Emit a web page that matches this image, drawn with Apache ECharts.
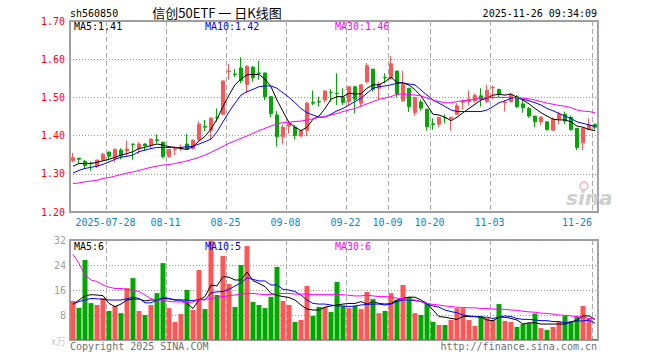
<!DOCTYPE html>
<html><head><meta charset="utf-8">
<script src="https://cdn.jsdelivr.net/npm/echarts@6/dist/echarts.min.js"></script>
<style>html,body{margin:0;padding:0;background:#fff}#c{width:660px;height:360px}</style>
</head><body><div id="c"></div>
<script>
const dates = ['2025-07-18','2025-07-21','2025-07-22','2025-07-23','2025-07-24','2025-07-25','2025-07-28','2025-07-29','2025-07-30','2025-07-31','2025-08-01','2025-08-04','2025-08-05','2025-08-06','2025-08-07','2025-08-08','2025-08-11','2025-08-12','2025-08-13','2025-08-14','2025-08-15','2025-08-18','2025-08-19','2025-08-20','2025-08-21','2025-08-22','2025-08-25','2025-08-26','2025-08-27','2025-08-28','2025-08-29','2025-09-01','2025-09-02','2025-09-03','2025-09-04','2025-09-05','2025-09-08','2025-09-09','2025-09-10','2025-09-11','2025-09-12','2025-09-15','2025-09-16','2025-09-17','2025-09-18','2025-09-19','2025-09-22','2025-09-23','2025-09-24','2025-09-25','2025-09-26','2025-09-29','2025-09-30','2025-10-09','2025-10-10','2025-10-13','2025-10-14','2025-10-15','2025-10-16','2025-10-17','2025-10-20','2025-10-21','2025-10-22','2025-10-23','2025-10-24','2025-10-27','2025-10-28','2025-10-29','2025-10-30','2025-10-31','2025-11-03','2025-11-04','2025-11-05','2025-11-06','2025-11-07','2025-11-10','2025-11-11','2025-11-12','2025-11-13','2025-11-14','2025-11-17','2025-11-18','2025-11-19','2025-11-20','2025-11-21','2025-11-24','2025-11-25','2025-11-26'];

const tickDates = ['2025-07-28','2025-08-11','2025-08-25','2025-09-08','2025-09-22','2025-10-09','2025-10-20','2025-11-03','2025-11-26'];
const tickLabels = ['2025-07-28','08-11','08-25','09-08','09-22','10-09','10-20','11-03','11-26'];

const opens = [1.334,1.341,1.333,1.328,1.320,1.336,1.357,1.340,1.362,1.360,
1.378,1.366,1.378,1.375,1.389,1.382,1.345,1.364,1.365,1.378,
1.366,1.390,1.424,1.414,1.448,1.456,1.567,1.561,1.577,1.534,
1.579,1.564,1.564,1.502,1.454,1.397,1.425,1.422,1.399,1.414,
1.487,1.489,1.493,1.513,1.511,1.500,1.489,1.528,1.485,1.541,
1.574,1.524,1.552,1.550,1.569,1.491,1.524,1.460,1.488,1.469,
1.431,1.430,1.447,1.444,1.456,1.487,1.489,1.491,1.504,1.489,
1.525,1.521,1.486,1.489,1.502,1.483,1.471,1.451,1.436,1.436,
1.414,1.443,1.456,1.448,1.419,1.381,1.416,1.430];
const closes = [1.342,1.338,1.321,1.327,1.336,1.351,1.346,1.364,1.346,1.365,
1.377,1.378,1.373,1.391,1.387,1.345,1.364,1.366,1.369,1.364,
1.388,1.430,1.422,1.446,1.447,1.543,1.569,1.560,1.544,1.581,
1.552,1.563,1.502,1.458,1.397,1.422,1.432,1.400,1.413,1.485,
1.485,1.488,1.517,1.512,1.510,1.487,1.528,1.495,1.533,1.583,
1.521,1.535,1.551,1.588,1.509,1.534,1.476,1.500,1.472,1.423,
1.429,1.448,1.446,1.448,1.478,1.491,1.495,1.505,1.495,1.519,
1.526,1.509,1.487,1.506,1.476,1.473,1.451,1.436,1.448,1.416,
1.443,1.456,1.438,1.416,1.369,1.419,1.428,1.422];
const lows = [1.330,1.327,1.313,1.308,1.315,1.334,1.335,1.330,1.338,1.347,
1.337,1.352,1.360,1.366,1.380,1.340,1.342,1.349,1.360,1.362,
1.364,1.386,1.412,1.390,1.436,1.454,1.546,1.553,1.537,1.512,
1.541,1.546,1.493,1.448,1.371,1.377,1.405,1.390,1.397,1.399,
1.480,1.476,1.486,1.489,1.480,1.480,1.480,1.458,1.476,1.537,
1.515,1.495,1.537,1.546,1.500,1.489,1.462,1.452,1.465,1.413,
1.415,1.421,1.432,1.413,1.454,1.468,1.478,1.486,1.476,1.485,
1.495,1.500,1.463,1.487,1.472,1.460,1.447,1.422,1.428,1.413,
1.413,1.429,1.430,1.413,1.362,1.362,1.416,1.416];
const highs = [1.355,1.342,1.336,1.332,1.337,1.355,1.358,1.366,1.367,1.387,
1.378,1.383,1.380,1.392,1.403,1.385,1.365,1.372,1.377,1.404,
1.390,1.437,1.441,1.447,1.471,1.544,1.588,1.574,1.605,1.585,
1.582,1.596,1.565,1.503,1.464,1.428,1.439,1.428,1.414,1.489,
1.518,1.502,1.518,1.521,1.563,1.524,1.529,1.529,1.534,1.590,
1.575,1.541,1.563,1.609,1.570,1.569,1.525,1.501,1.495,1.470,
1.445,1.449,1.455,1.449,1.485,1.495,1.518,1.511,1.524,1.533,
1.531,1.523,1.493,1.512,1.506,1.493,1.475,1.452,1.451,1.437,
1.448,1.463,1.463,1.452,1.420,1.421,1.445,1.431];

const ma5 = [1.320,1.327,1.327,1.327,1.330,1.334,1.338,1.343,1.349,1.353,
1.358,1.366,1.369,1.374,1.378,1.375,1.371,1.369,1.366,1.364,
1.371,1.386,1.398,1.417,1.443,1.476,1.506,1.533,1.548,1.559,
1.560,1.560,1.548,1.528,1.493,1.463,1.434,1.422,1.413,1.422,
1.443,1.451,1.471,1.495,1.502,1.502,1.511,1.509,1.509,1.524,
1.533,1.533,1.541,1.553,1.539,1.538,1.532,1.520,1.504,1.480,
1.456,1.454,1.448,1.439,1.448,1.460,1.471,1.482,1.493,1.498,
1.506,1.508,1.506,1.509,1.500,1.493,1.483,1.471,1.460,1.451,
1.443,1.441,1.441,1.436,1.425,1.422,1.416,1.413];
const ma10 = [1.302,1.309,1.314,1.317,1.320,1.325,1.331,1.338,1.343,1.346,
1.349,1.358,1.362,1.366,1.369,1.369,1.369,1.369,1.369,1.371,
1.372,1.378,1.384,1.391,1.410,1.436,1.462,1.485,1.506,1.515,
1.521,1.528,1.530,1.530,1.524,1.512,1.500,1.486,1.471,1.460,
1.454,1.448,1.449,1.456,1.465,1.471,1.480,1.489,1.498,1.511,
1.524,1.528,1.530,1.533,1.537,1.538,1.535,1.533,1.519,1.506,
1.493,1.485,1.476,1.467,1.463,1.463,1.463,1.463,1.463,1.467,
1.476,1.486,1.491,1.498,1.500,1.495,1.491,1.486,1.480,1.471,
1.465,1.458,1.451,1.445,1.436,1.432,1.428,1.424];
const ma30 = [1.2745,1.276,1.279,1.281,1.283,1.288,1.290,1.294,1.298,1.302,
1.305,1.309,1.313,1.317,1.320,1.323,1.324,1.327,1.330,1.334,
1.338,1.343,1.349,1.356,1.364,1.372,1.380,1.386,1.393,1.399,
1.406,1.413,1.419,1.425,1.430,1.434,1.435,1.437,1.438,1.441,
1.444,1.448,1.449,1.454,1.458,1.463,1.467,1.471,1.477,1.483,
1.489,1.495,1.498,1.502,1.508,1.509,1.508,1.506,1.504,1.498,
1.493,1.489,1.486,1.486,1.489,1.491,1.493,1.495,1.498,1.499,
1.500,1.500,1.500,1.500,1.499,1.498,1.496,1.493,1.489,1.485,
1.482,1.479,1.477,1.473,1.467,1.464,1.463,1.460];

const volumes = [12.5,10.3,25.6,11.8,11.2,13.4,9.3,10.9,8.6,16.6,
19.8,9.3,8.0,11.2,15.0,24.6,10.2,5.8,8.3,16.0,
9.6,22.4,9.9,31.8,14.4,26.9,17.9,10.6,24.0,30.1,
12.2,11.2,10.2,13.8,23.4,12.5,11.2,5.8,6.4,17.3,
7.7,10.6,10.6,9.0,18.6,10.9,10.2,10.9,9.9,15.4,
13.1,8.6,9.3,15.0,12.8,17.6,13.8,8.6,8.0,11.8,
5.8,4.8,4.8,6.4,10.2,10.2,6.4,4.5,7.7,7.0,
6.4,11.5,6.1,5.8,4.2,5.1,5.4,8.5,3.8,3.2,
4.2,5.8,7.7,5.8,7.4,10.9,7.0,0.3];
const volMa5 = [11.4,12.8,14.1,14.5,14.4,14.2,11.7,10.7,11.5,12.8,
13.1,13.1,12.5,12.8,12.8,13.3,13.2,12.8,12.8,11.7,
10.1,12.8,13.9,17.6,17.3,20.3,20.1,19.2,19.2,21.7,
19.0,18.1,17.1,14.9,14.3,13.9,13.6,12.8,11.2,9.9,
9.6,9.6,10.5,10.9,11.2,11.5,11.7,11.7,12.3,11.5,
12.3,11.7,11.5,11.7,12.8,13.3,13.7,13.7,12.8,11.7,
9.6,7.5,7.3,6.9,6.6,7.5,7.5,7.5,7.3,6.4,
6.2,7.3,7.3,6.9,6.4,5.1,5.5,5.5,5.1,5.1,
5.1,5.1,5.1,5.7,6.4,7.7,7.7,6.6];
const volMa10 = [11.5,12.3,12.8,13.3,13.2,13.0,12.8,12.8,12.8,13.2,
13.7,13.3,11.9,11.9,12.8,13.5,13.3,12.8,12.8,12.8,
12.6,13.0,12.8,15.1,15.4,15.5,16.2,17.3,18.3,19.9,
19.4,18.9,18.9,17.6,17.6,16.2,16.0,15.5,14.4,12.8,
11.7,11.5,11.5,11.2,10.9,10.9,10.7,10.9,11.2,11.4,
11.5,11.5,11.2,11.5,12.3,12.8,12.8,12.6,12.3,11.5,
10.9,10.5,9.6,9.1,8.7,8.0,7.7,7.5,7.3,7.3,
6.9,7.3,7.7,7.5,6.9,6.6,6.6,6.4,6.2,6.2,
5.9,5.9,5.5,5.9,6.1,6.1,6.4,5.4];
const volMa30 = [27.4,24.5,20.8,19.2,18.7,17.6,16.9,16.5,16.5,16.2,
16.0,15.5,14.4,13.2,12.8,12.8,12.3,12.2,12.2,11.9,
12.2,12.8,13.0,13.2,13.7,13.9,14.2,14.4,14.7,14.9,
14.9,14.7,14.5,14.6,14.9,14.9,14.9,14.7,14.7,14.7,
14.5,14.5,14.5,14.5,14.5,14.5,14.3,14.1,14.1,14.4,
14.1,13.9,13.9,13.7,13.4,13.2,13.0,12.8,12.3,11.7,
11.4,11.2,10.9,10.7,10.5,10.4,10.3,10.3,10.1,10.1,
9.9,9.9,9.8,9.6,9.5,9.2,9.0,8.9,8.6,8.5,
8.3,8.0,7.9,7.7,7.5,7.3,6.9,6.6];

const priceLegend = ['MA5:1.41', 'MA10:1.42', 'MA30:1.46'];
const volLegend = ['MA5:6', 'MA10:5', 'MA30:6'];

const UP = '#ff5555', DOWN = '#00a800';
const MONO = '"DejaVu Sans Mono", monospace';
const kData = opens.map((o, i) => [o, closes[i], lows[i], highs[i]]);

const chart = echarts.init(document.getElementById('c'), null, {renderer: 'svg'});

const isTick = (i, v) => tickDates.indexOf(v) >= 0;
const vSplit = {show: true, interval: isTick, lineStyle: {color: '#aaaaaa', width: 1, type: [5, 3]}};
const hSplit = {show: true, lineStyle: {color: '#999999', width: 1, type: [1, 2]}};

function txt(x, y, text, fill, align, font) {
  return {type: 'text', x: x, y: y, silent: true, z: 100,
    style: {text: text, fill: fill, font: font || ('10px ' + MONO), textAlign: align || 'left', textVerticalAlign: 'middle'}};
}

chart.setOption({
  animation: false,
  backgroundColor: '#fff',
  grid: [
    {left: 70, top: 21, width: 528, height: 191, show: true, borderColor: '#a0a0a0', borderWidth: 2, backgroundColor: 'transparent'},
    {left: 70, top: 240, width: 528, height: 100, show: true, borderColor: '#a0a0a0', borderWidth: 2, backgroundColor: 'transparent'}
  ],
  xAxis: [
    {type: 'category', gridIndex: 0, data: dates, boundaryGap: true,
     axisLine: {show: false}, axisTick: {show: false},
     axisLabel: {show: true, interval: isTick, margin: 5, color: '#0a84d6', fontFamily: MONO, fontSize: 10,
       padding: [0, 7, 0, 0],
       formatter: function (v) {
         const k = tickDates.indexOf(v);
         if (k < 0) return '';
         if (k === tickDates.length - 1) return '{e|' + tickLabels[k] + '}';
         return tickLabels[k];
       },
       rich: {e: {color: '#0a84d6', fontFamily: MONO, fontSize: 10, padding: [0, 29, 0, 0]}}
     },
     splitLine: vSplit},
    {type: 'category', gridIndex: 1, data: dates, boundaryGap: true,
     axisLine: {show: false}, axisTick: {show: false}, axisLabel: {show: false},
     splitLine: vSplit}
  ],
  yAxis: [
    {type: 'value', gridIndex: 0, min: 1.2, max: 1.7, interval: 0.1, scale: true,
     axisLine: {show: false}, axisTick: {show: false},
     axisLabel: {color: '#ff0000', fontFamily: MONO, fontSize: 10, margin: 5, formatter: v => v.toFixed(2)},
     splitLine: hSplit},
    {type: 'value', gridIndex: 1, min: 0, max: 32, interval: 8,
     axisLine: {show: false}, axisTick: {show: false},
     axisLabel: {color: '#a0a0a0', fontFamily: MONO, fontSize: 10, margin: 4,
       formatter: v => v === 0 ? '{u|x万}' : String(v),
       rich: {u: {color: '#cccccc', fontFamily: '"Noto Sans CJK SC", ' + MONO, fontSize: 10}}},
     splitLine: hSplit}
  ],
  series: [
    {type: 'candlestick', xAxisIndex: 0, yAxisIndex: 0, data: kData, barWidth: 4,
     itemStyle: {color: UP, color0: DOWN, borderColor: UP, borderColor0: DOWN, borderWidth: 1}},
    {type: 'line', xAxisIndex: 0, yAxisIndex: 0, data: ma5, showSymbol: false, lineStyle: {color: '#000000', width: 1}, itemStyle: {color: '#000'}},
    {type: 'line', xAxisIndex: 0, yAxisIndex: 0, data: ma10, showSymbol: false, lineStyle: {color: '#0000ff', width: 1}, itemStyle: {color: '#00f'}},
    {type: 'line', xAxisIndex: 0, yAxisIndex: 0, data: ma30, showSymbol: false, lineStyle: {color: '#ff00ff', width: 1}, itemStyle: {color: '#f0f'}},
    {type: 'bar', xAxisIndex: 1, yAxisIndex: 1, data: volumes, barWidth: 5,
     itemStyle: {color: p => closes[p.dataIndex] >= opens[p.dataIndex] ? UP : DOWN}},
    {type: 'line', xAxisIndex: 1, yAxisIndex: 1, data: volMa5, showSymbol: false, lineStyle: {color: '#000000', width: 1}},
    {type: 'line', xAxisIndex: 1, yAxisIndex: 1, data: volMa10, showSymbol: false, lineStyle: {color: '#0000ff', width: 1}},
    {type: 'line', xAxisIndex: 1, yAxisIndex: 1, data: volMa30, showSymbol: false, lineStyle: {color: '#ff00ff', width: 1}}
  ],
  graphic: [
    txt(70, 13, 'sh560850', '#000'),
    txt(217, 12, '信创50ETF 一 日K线图', '#000', 'center', '13px "Noto Sans CJK SC", sans-serif'),
    txt(597, 13, '2025-11-26 09:34:09', '#000', 'right'),
    txt(74, 26, priceLegend[0], '#000'),
    txt(205, 26, priceLegend[1], '#0000ff'),
    txt(335, 26, priceLegend[2], '#ff00ff'),
    txt(74, 246, volLegend[0], '#000'),
    txt(205, 246, volLegend[1], '#0000ff'),
    txt(335, 246, volLegend[2], '#ff00ff'),
    txt(70, 346, 'Copyright 2025 SINA.COM', '#707070'),
    txt(597, 346, 'http://finance.sina.com.cn', '#707070', 'right'),
    txt(566, 198, 'sina', '#cfcfcf', 'left', 'italic bold 20px "DejaVu Sans", sans-serif'),
    {type: 'circle', silent: true, z: 99, shape: {cx: 584, cy: 186, r: 4}, style: {fill: 'none', stroke: '#f0b4b4', lineWidth: 1.5}}
  ]
});
</script></body></html>
